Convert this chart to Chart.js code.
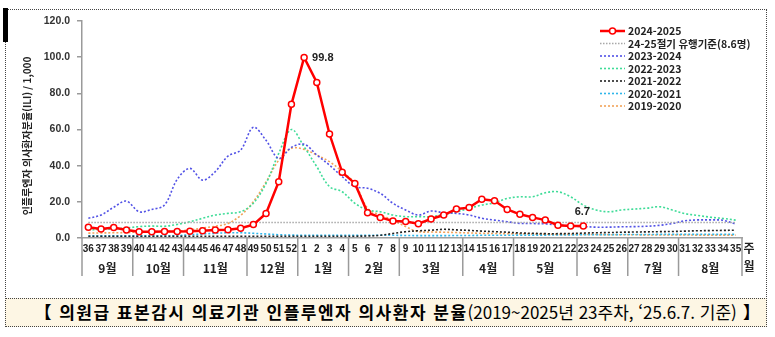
<!DOCTYPE html>
<html lang="ko">
<head>
<meta charset="utf-8">
<title>인플루엔자 의사환자 분율</title>
<script src="https://cdn.jsdelivr.net/npm/chart.js@4.4.1/dist/chart.umd.min.js"></script>
<style>
  html, body { margin: 0; padding: 0; background: #fff; }
  #wrap { position: relative; width: 775px; height: 337px; overflow: hidden; }
  #chartBox { position: absolute; left: 0; top: 0; width: 775px; height: 298px; }
  .frame { position: absolute; left: 5px; top: 9px; width: 762px; height: 290px; border: 1px dotted #444; border-bottom: none; box-sizing: border-box; }
  .bar { position: absolute; left: 3px; top: 8px; width: 5px; height: 34px; background: #000; }
  .caption {
    position: absolute; left: 5px; top: 298px; width: 762px; height: 29px; box-sizing: border-box;
    padding-left: 24px;
    border: 1px dotted #444; background: #fdf6e4; color: #000; white-space: nowrap;
    font-family: 'Noto Sans CJK KR', sans-serif; font-size: 17px; line-height: 26px; text-align: center;
  }
  .caption b { font-weight: 700; letter-spacing: 1.5px; }
  .caption span { font-weight: 400; }
</style>
</head>
<body>
<div id="wrap">
  <div class="frame"></div>
  <div class="bar"></div>
  <div id="chartBox"><canvas id="chartCanvas"></canvas></div>
  <div class="caption"><b>【 의원급 표본감시 의료기관 인플루엔자 의사환자 분율</b><span>(2019~2025년 23주차, ‘25.6.7. 기준)</span><b> 】</b></div>
</div>
<script>
// week labels (36주 ~ 52주, 1주 ~ 35주)
const weeks = ['36','37','38','39','40','41','42','43','44','45','46','47','48','49','50','51','52',
  '1','2','3','4','5','6','7','8','9','10','11','12','13','14','15','16','17','18','19','20',
  '21','22','23','24','25','26','27','28','29','30','31','32','33','34','35'];

// month groups under the week labels
const months = ['9월','10월','11월','12월','1월','2월','3월','4월','5월','6월','7월','8월'];
const monthWeeks = [4, 4, 5, 4, 4, 4, 5, 4, 5, 4, 4, 5];

// ILI per 1,000
const ili2425 = [5.9, 5.0, 5.8, 4.4, 3.5, 3.5, 3.6, 3.6, 3.7, 4.0, 4.4, 4.6, 5.4, 7.4, 13.6, 31.1, 73.9,
  99.8, 86.0, 57.5, 36.3, 30.2, 14.0, 11.4, 9.4, 9.1, 7.9, 10.5, 12.7, 16.0, 16.8, 21.4, 20.6, 15.8,
  13.1, 11.4, 9.9, 7.1, 6.6, 6.7,
  null, null, null, null, null, null, null, null, null, null, null, null];
const ili2324 = [10.9, 12.7, 17.0, 20.4, 14.5, 15.8, 18.2, 32.4, 38.5, 32.0, 36.7, 45.3, 48.6, 61.2, 54.0, 44.0, 50.1,
  51.9, 45.9, 40.3, 33.9, 28.4, 27.5, 24.7, 19.2, 15.5, 12.7, 14.9, 14.0, 13.6, 12.7, 10.9, 9.9, 9.0,
  8.1, 8.0, 7.8, 7.2, 6.6, 6.3, 6.0, 6.0, 6.2, 6.3, 6.5, 7.0, 8.0, 9.5, 10.0, 10.0, 9.8, 7.7];
const ili2223 = [4.5, 4.8, 5.0, 5.5, 6.3, 6.6, 6.5, 7.5, 9.0, 10.9, 12.7, 13.6, 14.5, 19.2, 30.2, 46.8, 60.0,
  50.4, 39.4, 28.4, 25.6, 19.2, 15.5, 14.5, 12.7, 11.8, 11.8, 11.8, 13.1, 14.5, 16.4, 18.2, 19.5, 21.9,
  22.8, 22.8, 25.0, 25.6, 22.8, 18.2, 15.5, 14.5, 15.5, 16.0, 16.5, 17.3, 15.5, 13.5, 12.5, 11.5, 10.8, 9.9];
const ili2122 = [1.0, 1.0, 1.0, 1.0, 1.0, 1.0, 1.0, 1.0, 1.0, 1.0, 1.0, 1.0, 1.0, 1.0, 1.0, 1.0, 1.0,
  1.0, 1.0, 1.0, 1.0, 1.0, 1.1, 1.5, 2.5, 3.5, 4.0, 4.3, 4.8, 4.5, 4.2, 3.8, 3.5, 3.2,
  2.8, 2.6, 2.4, 2.4, 2.5, 2.7, 2.9, 3.0, 3.2, 3.3, 3.4, 3.5, 3.6, 3.8, 4.0, 4.1, 4.2, 4.3];
const ili2021 = [1.2, 1.2, 1.2, 1.2, 1.2, 1.2, 1.2, 1.3, 1.8, 2.2, 2.6, 2.9, 2.9, 2.6, 2.2, 1.8, 1.6,
  1.5, 1.5, 1.5, 1.5, 1.5, 1.5, 1.5, 1.5, 1.4, 1.3, 1.3, 1.3, 1.4, 1.4, 1.5, 1.5, 1.5,
  1.6, 1.6, 1.6, 1.7, 1.7, 1.8, 1.8, 1.8, 1.9, 1.9, 1.9, 2.0, 2.0, 2.0, 2.0, 2.0, 2.0, 2.0];
const ili1920 = [2.7, 2.8, 2.9, 3.0, 3.3, 3.5, 3.6, 3.8, 4.5, 5.5, 6.5, 8.0, 12.5, 20.0, 31.0, 43.0, 49.6,
  49.0, 45.9, 42.2, 36.7, 30.2, 16.4, 12.7, 9.9, 6.3, 3.5, 3.3, 3.2, 3.0, 2.8, 2.6, 2.5, 2.4,
  2.3, 2.2, 2.1, 2.0, 2.0, 1.9, 1.9, 1.8, 1.8, 1.8, 1.7, 1.7, 1.7, 1.7, 1.6, 1.6, 1.6, 1.6];

const threshold2425 = 8.6; // 24-25절기 유행기준

const yMax = 120;
const yStep = 20;

const numFamily = "'Liberation Sans', sans-serif";
const tickFont = { family: numFamily, size: 10, weight: 'bold' };
const korFont = "'Noto Sans CJK KR', sans-serif";

const dotted = (label, data, color) => ({
  label: label,
  data: data,
  borderColor: color,
  borderWidth: 1.6,
  borderDash: [2, 2],
  pointRadius: 0,
  tension: 0.35,
  fill: false
});

// month row, separators and the 주/월 header under the axis
const monthAxis = {
  id: 'monthAxis',
  afterDraw(chart) {
    const ctx = chart.ctx;
    const xs = chart.scales.x;
    const area = chart.chartArea;
    const half = (xs.getPixelForValue(1) - xs.getPixelForValue(0)) / 2;
    const lineEnd = 276;

    ctx.save();
    ctx.strokeStyle = '#9a9a9a';
    ctx.lineWidth = 1.5;
    ctx.beginPath();
    ctx.moveTo(area.left, area.bottom);
    ctx.lineTo(area.left, lineEnd);
    ctx.stroke();

    ctx.fillStyle = '#222';
    ctx.font = 'bold 12px ' + korFont;
    ctx.textAlign = 'center';
    ctx.textBaseline = 'middle';

    let idx = 0;
    monthWeeks.forEach((n, m) => {
      const start = xs.getPixelForValue(idx) - half;
      const end = xs.getPixelForValue(idx + n - 1) + half;
      ctx.fillText(months[m], (start + end) / 2, 268);
      ctx.beginPath();
      ctx.moveTo(end, area.bottom);
      ctx.lineTo(end, lineEnd);
      ctx.stroke();
      idx += n;
    });

    ctx.fillText('주', area.right + 7, 248);
    ctx.fillText('월', area.right + 7, 266);
    ctx.restore();
  }
};

// y axis title
const yTitle = {
  id: 'yTitle',
  afterDraw(chart) {
    const ctx = chart.ctx;
    ctx.save();
    ctx.translate(27, 136);
    ctx.rotate(-Math.PI / 2);
    ctx.fillStyle = '#222';
    ctx.font = 'bold 10px ' + korFont;
    ctx.textAlign = 'center';
    ctx.textBaseline = 'middle';
    ctx.fillText('인플루엔자 의사환자분율(ILI) / 1,000', 0, 0);
    ctx.restore();
  }
};

// peak and latest value labels for 2024-2025
const valueLabels = {
  id: 'valueLabels',
  afterDatasetsDraw(chart) {
    const ctx = chart.ctx;
    const data = chart.data.datasets[0].data;
    const pts = chart.getDatasetMeta(0).data;
    let peak = 0;
    let last = 0;
    data.forEach((v, i) => {
      if (v === null) return;
      if (v > data[peak]) peak = i;
      last = i;
    });
    ctx.save();
    ctx.fillStyle = '#222';
    ctx.font = 'bold 11px ' + numFamily;
    ctx.textBaseline = 'middle';
    ctx.textAlign = 'left';
    ctx.fillText(data[peak].toFixed(1), pts[peak].x + 8, pts[peak].y);
    ctx.textAlign = 'center';
    ctx.fillText(data[last].toFixed(1), pts[last].x - 1, pts[last].y - 14);
    ctx.restore();
  }
};

// legend in the top right corner of the plot
const cornerLegend = {
  id: 'cornerLegend',
  afterDraw(chart) {
    const ctx = chart.ctx;
    const x0 = 600, x1 = 625, top = 31, gap = 12.5;
    ctx.save();
    ctx.font = 'bold 10.5px ' + korFont;
    ctx.textBaseline = 'middle';
    ctx.textAlign = 'left';
    chart.data.datasets.forEach((ds, i) => {
      const y = top + i * gap;
      ctx.strokeStyle = ds.borderColor;
      ctx.lineWidth = ds.borderWidth;
      ctx.setLineDash(ds.borderDash || []);
      ctx.beginPath();
      ctx.moveTo(x0, y);
      ctx.lineTo(x1, y);
      ctx.stroke();
      ctx.setLineDash([]);
      if (ds.pointRadius) {
        ctx.fillStyle = ds.pointBackgroundColor;
        ctx.lineWidth = ds.pointBorderWidth;
        ctx.beginPath();
        ctx.arc((x0 + x1) / 2, y, ds.pointRadius, 0, Math.PI * 2);
        ctx.fill();
        ctx.stroke();
      }
      ctx.fillStyle = '#222';
      ctx.fillText(ds.label, x1 + 3, y + 0.5);
    });
    ctx.restore();
  }
};

const ctx = document.getElementById('chartCanvas').getContext('2d');
new Chart(ctx, {
  type: 'line',
  data: {
    labels: weeks,
    datasets: [
      {
        label: '2024-2025',
        data: ili2425,
        borderColor: '#ff0000',
        borderWidth: 2.5,
        pointRadius: 3,
        pointBorderWidth: 1.5,
        pointBorderColor: '#ff0000',
        pointBackgroundColor: '#fff',
        tension: 0,
        fill: false
      },
      {
        label: '24-25절기 유행기준(8.6명)',
        data: weeks.map(() => threshold2425),
        borderColor: '#a8a8a8',
        borderWidth: 1.6,
        borderDash: [1.5, 1.5],
        pointRadius: 0,
        fill: false
      },
      dotted('2023-2024', ili2324, '#5252e6'),
      dotted('2022-2023', ili2223, '#3fdc98'),
      dotted('2021-2022', ili2122, '#222222'),
      dotted('2020-2021', ili2021, '#2fb6ea'),
      dotted('2019-2020', ili1920, '#f2a35a')
    ]
  },
  options: {
    responsive: true,
    maintainAspectRatio: false,
    animation: false,
    layout: { padding: { left: 0, top: 21, right: 33, bottom: 0 } },
    plugins: {
      legend: { display: false },
      tooltip: { enabled: false }
    },
    scales: {
      x: {
        type: 'category',
        offset: true,
        grid: { display: false, drawTicks: false },
        border: { display: true, color: '#a0a0a0', width: 1.5 },
        ticks: {
          autoSkip: false,
          maxRotation: 0,
          minRotation: 0,
          padding: 5,
          color: '#222',
          font: tickFont
        },
        afterFit: (scale) => { scale.height = 60; }
      },
      y: {
        min: 0,
        max: yMax,
        grid: { drawOnChartArea: false, drawTicks: true, tickLength: 5, color: '#9a9a9a', lineWidth: 1.5 },
        border: { display: true, color: '#9a9a9a', width: 1.5 },
        ticks: {
          stepSize: yStep,
          padding: 7,
          color: '#333',
          font: { family: numFamily, size: 10.5, weight: 'bold' },
          callback: (v) => v.toFixed(1)
        },
        afterFit: (scale) => { scale.width = 82; }
      }
    }
  },
  plugins: [monthAxis, yTitle, valueLabels, cornerLegend]
});
</script>
</body>
</html>
